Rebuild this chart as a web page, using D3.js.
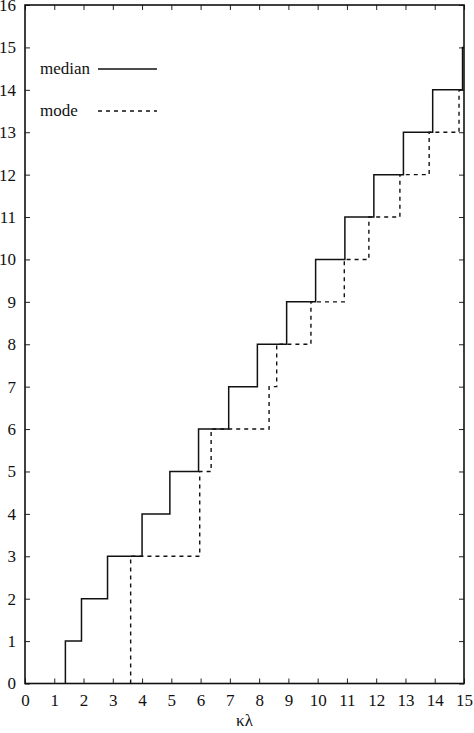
<!DOCTYPE html>
<html>
<head>
<meta charset="utf-8">
<script src="https://cdn.jsdelivr.net/npm/d3@7"></script>
<style>
  html, body { margin: 0; padding: 0; background: #fff; }
  svg { display: block; }
</style>
</head>
<body>
<script>
// ---- data ----
const xTicks = d3.range(0, 16);          // 0..15
const yTicks = d3.range(0, 17);          // 0..16
const medianJumpX = [1.38, 1.93, 2.82, 4.0, 4.95, 5.93, 6.96, 7.94, 8.94, 9.93, 10.93, 11.92, 12.93, 13.93, 14.95];
const medianValues = [1, 2, 3, 4, 5, 6, 7, 8, 9, 10, 11, 12, 13, 14, 15];
const modeJumpX = [3.61, 5.97, 6.36, 8.34, 8.60, 9.77, 10.91, 11.75, 12.81, 13.81, 14.83];
const modeValues = [3, 5, 6, 7, 8, 9, 10, 11, 12, 13, 14];
const seriesNames = ["median", "mode"];
const xLabel = "κλ";

// ---- layout ----
const W = 474, H = 733;
const m = { left: 25, right: 10, top: 5, bottom: 49.5 };
const xMin = 0, xMax = 15, yMin = 0, yMax = 16;
const FONT = '"Liberation Serif", "Times New Roman", Times, "DejaVu Serif", serif';

const svg = d3.select("body").append("svg").attr("width", W).attr("height", H)
  .attr("font-family", FONT).style("font-family", FONT);

const x = d3.scaleLinear().domain([xMin, xMax]).range([m.left, W - m.right]);
const y = d3.scaleLinear().domain([yMin, yMax]).range([H - m.bottom, m.top]);

const fs = 17;
// axes with inward ticks
const gB = svg.append("g").attr("transform", `translate(0,${y(yMin)})`)
  .call(d3.axisBottom(x).tickValues(xTicks).tickFormat(d3.format("d")).tickSize(-5).tickPadding(10));
const gT = svg.append("g").attr("transform", `translate(0,${y(yMax)})`)
  .call(d3.axisTop(x).tickValues(xTicks).tickFormat("").tickSize(-5));
const gL = svg.append("g").attr("transform", `translate(${x(xMin)},0)`)
  .call(d3.axisLeft(y).tickValues(yTicks).tickFormat(d3.format("d")).tickSize(-5).tickPadding(9));
const gR = svg.append("g").attr("transform", `translate(${x(xMax)},0)`)
  .call(d3.axisRight(y).tickValues(yTicks).tickFormat("").tickSize(-5));

[gB, gT, gL, gR].forEach(g => {
  g.attr("font-family", FONT).attr("font-size", fs);
  g.select(".domain").remove();
  g.selectAll(".tick line").attr("stroke", "#222").attr("stroke-width", 1);
  g.selectAll("text").attr("font-size", fs).attr("fill", "#111")
    .attr("font-family", FONT).style("font-family", FONT);
});

// frame
svg.append("rect")
  .attr("x", x(xMin)).attr("y", y(yMax))
  .attr("width", x(xMax) - x(xMin)).attr("height", y(yMin) - y(yMax))
  .attr("fill", "none").attr("stroke", "#111").attr("stroke-width", 1.6);

// step lines
function stepPoints(jx, vals, xEnd) {
  const pts = [[jx[0], 0]];
  jx.forEach((xx, i) => pts.push([xx, vals[i]]));
  pts.push([xEnd, vals[vals.length - 1]]);
  return pts;
}
const line = d3.line().x(d => x(d[0])).y(d => y(d[1])).curve(d3.curveStepAfter);

svg.append("path")
  .datum(stepPoints(modeJumpX, modeValues, xMax))
  .attr("d", line).attr("fill", "none")
  .attr("stroke", "#111").attr("stroke-width", 1.4).attr("stroke-dasharray", "4,4");

svg.append("path")
  .datum(stepPoints(medianJumpX, medianValues, xMax))
  .attr("d", line).attr("fill", "none")
  .attr("stroke", "#111").attr("stroke-width", 1.5);

// legend
const legend = svg.append("g");
seriesNames.forEach((name, i) => {
  const ly = 69 + i * 42;
  legend.append("text").attr("x", 40).attr("y", ly).attr("dy", "0.32em")
    .attr("font-size", fs).attr("fill", "#111").text(name);
  legend.append("line").attr("x1", 98).attr("x2", 157).attr("y1", ly).attr("y2", ly)
    .attr("stroke", "#111").attr("stroke-width", i === 0 ? 1.5 : 1.4)
    .attr("stroke-dasharray", i === 0 ? null : "4,4");
});

// x label
svg.append("text").attr("x", x((xMin + xMax) / 2)).attr("y", 726)
  .attr("text-anchor", "middle").attr("font-size", fs).attr("fill", "#111").text(xLabel);
</script>
</body>
</html>
